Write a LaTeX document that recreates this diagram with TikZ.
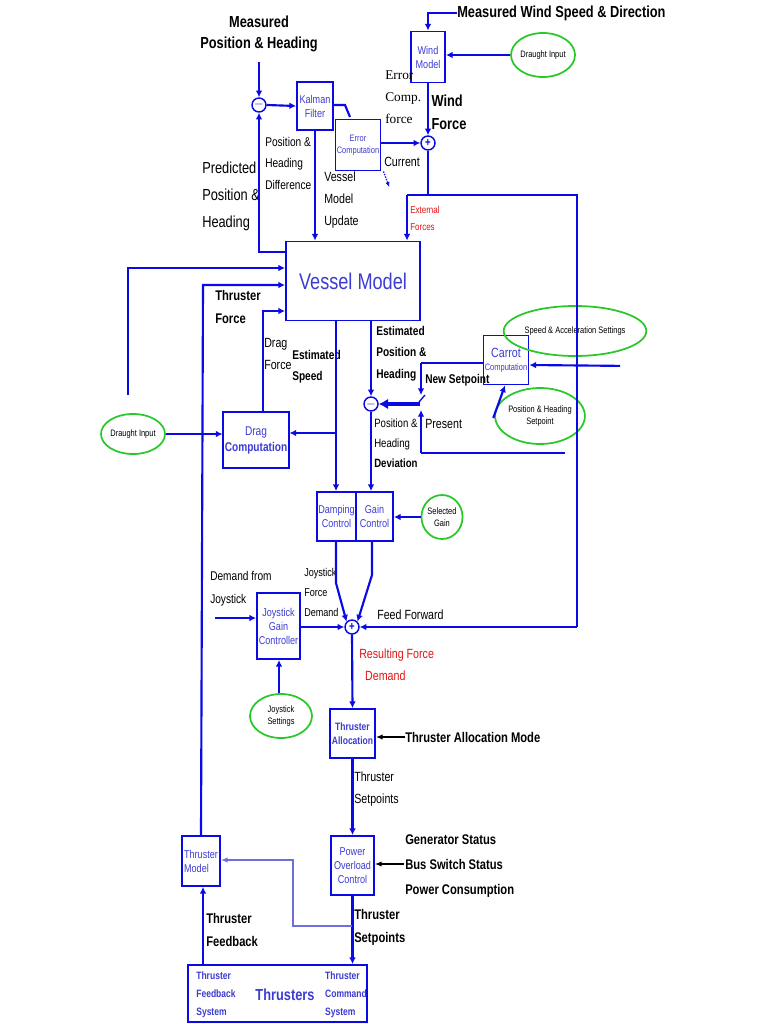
\documentclass[tikz,border=0pt]{standalone}
\usepackage{fontspec}
\setmainfont[FakeStretch=0.8]{Liberation Sans}
\newfontfamily\serifn{Liberation Serif}
\usetikzlibrary{arrows.meta,shapes.geometric}
\definecolor{bl}{RGB}{10,10,230}
\definecolor{bt}{RGB}{60,60,210}
\definecolor{gr}{RGB}{40,200,40}
\definecolor{lb}{RGB}{110,110,220}
\begin{document}
\begin{tikzpicture}[x=0.75pt,y=-0.75pt,
 line/.style={bl,line width=1.6pt},
 arr/.style={line,-{Latex[length=5pt,width=5pt]}},
 barr/.style={black,line width=0.9pt,-{Latex[length=5pt,width=4pt]}},
 box/.style={draw=bl,line width=1.4pt,text=bt,align=center,inner sep=1pt,font=\fontsize{8.5}{10.5}\selectfont},
 ell/.style={draw=gr,line width=1.3pt,ellipse,align=center,inner sep=0pt,font=\fontsize{7}{9}\selectfont},
 sum/.style={circle,draw=bl,line width=1.1pt,minimum size={14*0.75pt},inner sep=0pt,text=bl,font=\bfseries\fontsize{9}{9}\selectfont},
 bb/.style={font=\bfseries\fontsize{12}{14}\selectfont,inner sep=0pt,align=left},
 lab/.style={font=\fontsize{10}{16.5}\selectfont,inner sep=0pt,align=left,anchor=north west},
 labb/.style={font=\bfseries\fontsize{9.5}{16}\selectfont,inner sep=0pt,align=left,anchor=north west},
 red/.style={text={rgb,255:red,230;green,20;blue,20}}]
\useasboundingbox (0,0) rectangle (768,1024);
\fill[white] (0,0) rectangle (768,1024);
% top texts
\node[bb,align=center] (mph) at (259,34) {Measured\\[2pt]Position \& Heading};
\node[bb,anchor=west] (mws) at (457,13) {Measured Wind Speed \& Direction};
% boxes
\node[box,minimum width={36*0.75pt},minimum height={48*0.75pt}] (kal) at (315,106) {Kalman\\Filter};
\node[box,minimum width={43*0.75pt},minimum height={51*0.75pt},font=\fontsize{7}{9}\selectfont] (err) at (358,145) {Error\\Computation};
\node[box,minimum width={34*0.75pt},minimum height={51*0.75pt}] (wind) at (428,57) {Wind\\Model};
\node[ell,minimum width={56*0.75pt},minimum height={44*0.75pt}] (dr1) at (543,55) {Draught Input};
\node[sum] (m1) at (259,105) {$-$};
\node[sum] (p1) at (428,143) {+};
\node[box,minimum width={134*0.75pt},minimum height={79*0.75pt},font=\fontsize{17}{20}\selectfont] (vm) at (353,281) {Vessel Model};
\node[box,minimum width={57*0.75pt},minimum height={56*0.75pt},font=\fontsize{9.5}{12}\selectfont] (drag) at (256,440) {Drag\\\bfseries Computation};
\node[ell,minimum width={56*0.75pt},minimum height={40*0.75pt}] (dr2) at (133,434) {Draught Input};
\node[box,minimum width={45*0.75pt},minimum height={49*0.75pt},font=\fontsize{7}{10}\selectfont] (car) at (506,360) {{\fontsize{10}{11}\selectfont Carrot}\\Computation};
\node[ell,minimum width={94*0.75pt},minimum height={50*0.75pt}] (spd) at (575,331) {Speed \& Acceleration Settings};
\node[ell,minimum width={68*0.75pt},minimum height={56*0.75pt}] (phs) at (540,416) {Position \& Heading\\Setpoint};
\node[sum] (m2) at (371,404) {$-$};
\node[box,minimum width={39*0.75pt},minimum height={49*0.75pt}] (damp) at (336.5,516.5) {Damping\\Control};
\node[box,minimum width={37*0.75pt},minimum height={49*0.75pt}] (gain) at (374.5,516.5) {Gain\\Control};
\node[ell,minimum width={38*0.75pt},minimum height={44*0.75pt}] (sg) at (442,517) {Selected\\Gain};
\node[sum] (p2) at (352,627) {+};
\node[box,minimum width={43*0.75pt},minimum height={66*0.75pt}] (joy) at (278.5,626) {Joystick\\Gain\\Controller};
\node[ell,minimum width={62*0.75pt},minimum height={44*0.75pt}] (js) at (281,716) {Joystick\\Settings};
\node[box,minimum width={45*0.75pt},minimum height={49*0.75pt},font=\bfseries\fontsize{8}{10.5}\selectfont] (ta) at (352.5,733.5) {Thruster\\Allocation};
\node[box,minimum width={43*0.75pt},minimum height={59*0.75pt}] (poc) at (352.5,865.5) {Power\\Overload\\Control};
\node[box,minimum width={38*0.75pt},minimum height={50*0.75pt},align=left] (tm) at (201,861) {Thruster\\Model};
\node[box,minimum width={179*0.75pt},minimum height={57*0.75pt}] (th) at (277.5,993.5) {};
\node[text=bt,font=\bfseries\fontsize{8}{13.5}\selectfont,align=left] (tfs) at (216,995) {Thruster\\Feedback\\System};
\node[text=bt,font=\bfseries\fontsize{8}{13.5}\selectfont,align=left] (tcs) at (346,995) {Thruster\\Command\\System};
\node[text=bt,font=\bfseries\fontsize{12}{14}\selectfont] (ths) at (285,995) {Thrusters};
% labels
\node[lab,font=\serifn\fontsize{10}{16.5}\selectfont] (ecf) at (385,71) {Error\\Comp.\\force};
\node[lab,anchor=west] (cur) at (384,162) {Current};
\node[bb] (wf) at (449,112) {Wind\\[3pt]Force};
\node[lab,font=\fontsize{12}{20}\selectfont] (pph) at (202,162) {Predicted\\Position \&\\Heading};
\node[lab,font=\fontsize{9.5}{16}\selectfont] (phd) at (265,137) {Position \&\\Heading\\Difference};
\node[lab] (vmu) at (324,172) {Vessel\\Model\\Update};
\node[lab,red,font=\fontsize{7.5}{13}\selectfont] (ef) at (410,206) {External\\Forces};
\node[bb,anchor=north west,font=\bfseries\fontsize{10.5}{17}\selectfont] (tf) at (215,290) {Thruster\\Force};
\node[lab] (df) at (264,338) {Drag\\Force};
\node[labb] (es) at (292,350) {Estimated\\Speed};
\node[labb] (eph) at (376,326) {Estimated\\Position \&\\Heading};
\node[labb,anchor=west] (ns) at (425,380) {New Setpoint};
\node[lab,anchor=west] (pr) at (425,424) {Present};
\node[lab,font=\fontsize{9}{15}\selectfont] (phdev) at (374,419) {Position \&\\Heading\\{\bfseries Deviation}};
\node[lab,font=\fontsize{9.5}{17}\selectfont] (dfj) at (210,571) {Demand from\\Joystick};
\node[lab,font=\fontsize{8.5}{15}\selectfont] (jfd) at (304,568) {Joystick\\Force\\Demand};
\node[lab,anchor=west] (ff) at (377,615) {Feed Forward};
\node[lab,red] (rfd) at (359,649) {Resulting Force\\\ \ Demand};
\node[bb,anchor=west,font=\bfseries\fontsize{10.5}{12}\selectfont] (tam) at (405,737) {Thruster Allocation Mode};
\node[lab] (tsp) at (354,772) {Thruster\\Setpoints};
\node[bb,anchor=north west,font=\bfseries\fontsize{10.5}{19}\selectfont] (gs) at (405,834) {Generator Status\\Bus Switch Status\\Power Consumption};
\node[bb,anchor=north west,font=\bfseries\fontsize{10.5}{17}\selectfont] (tsp2) at (354,909) {Thruster\\Setpoints};
\node[bb,anchor=north west,font=\bfseries\fontsize{10.5}{17}\selectfont] (tfb) at (206,913) {Thruster\\Feedback};
% coordinates
\coordinate (r1) at (577,195);
% connectors top
\draw[arr] (mph.south) ++(0,10) -- (m1.north);
\draw[arr] (m1.east) -- (kal.west);
\draw[line] (kal.east |- 0,105) -- (345,105) -- (350,117);
\draw[arr] (mws.west) -- (428,13) -- (wind.north);
\draw[arr] (dr1.west) -- (wind.east |- dr1.west);
\draw[arr] (wind.south) -- (p1.north);
\draw[arr] (err.east |- p1.west) -- (p1.west);
\draw[bl,densely dotted,line width=1pt,-{Latex[length=4pt]}] (err.south east) ++(2,0) -- ++(6,16);
\draw[line] (p1.south) -- (428,195);
\draw[line] (407,195) -- (r1) -- (577,627);
\draw[arr] (407,195) -- (vm.north -| 407,0);
\draw[arr] (577,627) -- (p2.east);
\draw[arr] (kal.south) -- (vm.north -| kal.south);
\draw[arr] (vm.west |- 0,252) -- (259,252) -- (m1.south);
\draw[arr] (128,395) -- (128,268) -- (vm.west |- 0,268);
\draw[arr] (tm.north) -- (203,285) -- (vm.west |- 0,285);
\draw[arr] (drag.north -| 263,0) -- (263,311) -- (vm.west |- 0,311);
% middle
\draw[arr] (dr2.east) -- (drag.west |- dr2.east);
\draw[arr] (vm.south -| 336,0) -- (damp.north -| 336,0);
\draw[arr] (336,433) -- (drag.east |- 0,433);
\draw[arr] (vm.south -| 371,0) -- (m2.north);
\draw[arr] (m2.south) -- (gain.north -| 371,0);
\draw[arr] (spd.south -| 620,0) ++(0,9) -- (car.east |- 0,365);
\draw[arr] (phs.west |- 0,418) ++(-1,0) -- (car.south -| 505,0);
\draw[line] (car.west |- 0,363) -- (421,363);
\draw[arr] (421,363) -- (421,395);
\draw[line,line width=1pt] (419,402) -- (425,395);
\draw[bl,line width=3pt,-{Latex[length=7pt,width=8pt]}] (420,404) -- (m2.east);
\draw[line] (565,453) -- (421,453);
\draw[arr] (421,453) -- (421,410);
\draw[arr] (sg.west) -- (gain.east |- sg.west);
\draw[arr] (damp.south -| 336,0) -- (336,583) -- (p2.north west);
\draw[arr] (gain.south -| 372,0) -- (372,575) -- (p2.north east);
\draw[arr] (215,618) -- (joy.west |- 0,618);
\draw[arr] (joy.east |- p2.west) -- (p2.west);
\draw[arr] (js.north -| 279,0) -- (joy.south -| 279,0);
% bottom
\draw[arr] (p2.south) -- (ta.north);
\draw[barr] (tam.west) -- (ta.east |- tam.west);
\draw[arr] (ta.south) -- (poc.north);
\draw[barr] (404,864) -- (poc.east |- 0,864);
\draw[arr] (poc.south) -- (th.north -| poc.south);
\draw[lb,line width=1pt,-{Latex[length=5pt,width=4pt]}] (352,926) -- (293,926) -- (293,860) -- (tm.east |- 0,860);
\draw[arr] (th.north -| 203,0) -- (tm.south -| 203,0);
\end{tikzpicture}
\end{document}
